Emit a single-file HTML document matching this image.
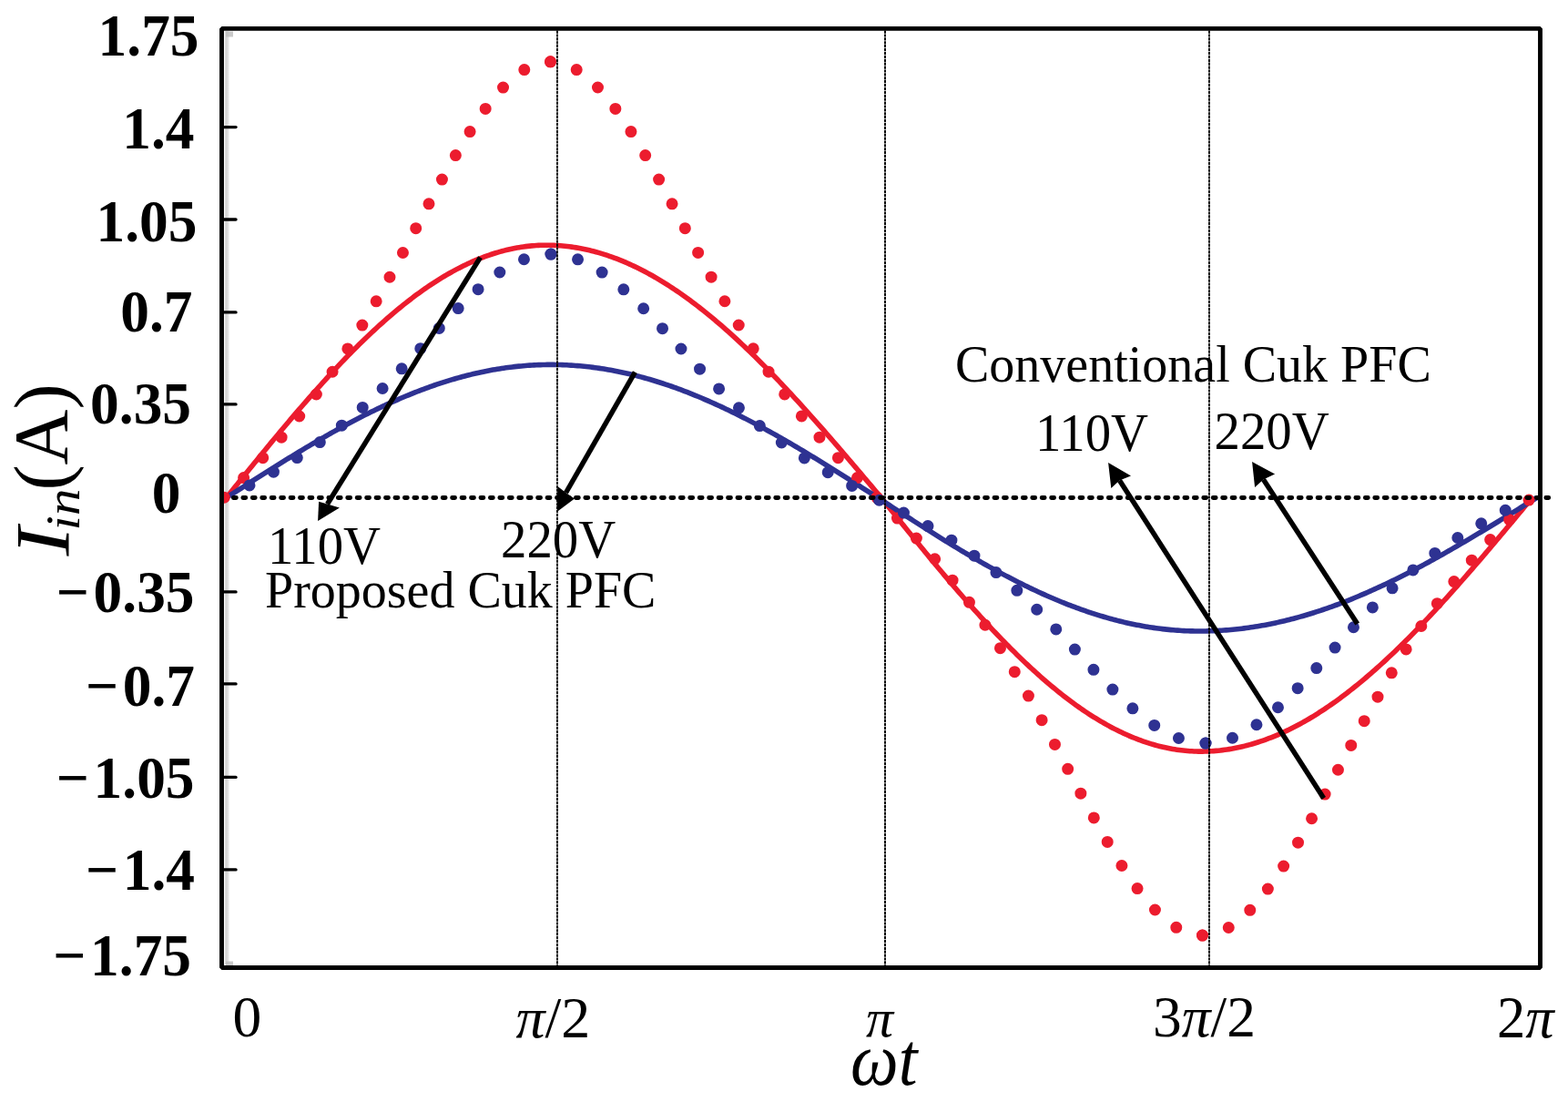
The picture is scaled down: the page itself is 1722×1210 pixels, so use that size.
<!DOCTYPE html><html><head><meta charset="utf-8"><style>html,body{margin:0;padding:0;background:#fff;}svg{display:block;}text{font-family:"Liberation Serif",serif;fill:#000;}</style></head><body>
<svg width="1722" height="1210" viewBox="0 0 1722 1210">
<rect width="1722" height="1210" fill="#fff"/>
<defs><linearGradient id="sh" x1="0" x2="1" y1="0" y2="0"><stop offset="0" stop-color="#cfcfcf"/><stop offset="0.45" stop-color="#d6d6d6"/><stop offset="1" stop-color="#f4f4f4"/></linearGradient></defs>
<rect x="247.2" y="34" width="4.8" height="1025" fill="url(#sh)"/>
<rect x="248" y="34.5" width="8" height="6" fill="#bdbdbd" opacity="0.8"/>
<rect x="248" y="1055.5" width="8" height="4.5" fill="#bdbdbd" opacity="0.8"/>
<clipPath id="pc"><rect x="246" y="34" width="1443" height="1026"/></clipPath><filter id="bl" x="-5%" y="-5%" width="110%" height="110%"><feGaussianBlur stdDeviation="0.55"/></filter><g clip-path="url(#pc)"><g filter="url(#bl)">
<path d="M248.60,546.50 L250.95,543.59 L253.29,540.68 L255.64,537.78 L257.99,534.87 L260.34,531.96 L262.68,529.06 L265.03,526.16 L267.38,523.26 L269.73,520.36 L272.07,517.47 L274.42,514.57 L276.77,511.69 L279.11,508.80 L281.46,505.92 L283.81,503.05 L286.16,500.18 L288.50,497.31 L290.85,494.45 L293.20,491.60 L295.54,488.75 L297.89,485.91 L300.24,483.07 L302.59,480.25 L304.93,477.43 L307.28,474.61 L309.63,471.81 L311.98,469.01 L314.32,466.22 L316.67,463.44 L319.02,460.67 L321.36,457.91 L323.71,455.16 L326.06,452.42 L328.41,449.69 L330.75,446.97 L333.10,444.26 L335.45,441.56 L337.80,438.87 L340.14,436.20 L342.49,433.53 L344.84,430.88 L347.18,428.25 L349.53,425.62 L351.88,423.01 L354.23,420.41 L356.57,417.83 L358.92,415.26 L361.27,412.71 L363.62,410.17 L365.96,407.64 L368.31,405.13 L370.66,402.64 L373.00,400.16 L375.35,397.69 L377.70,395.25 L380.05,392.82 L382.39,390.41 L384.74,388.01 L387.09,385.63 L389.43,383.27 L391.78,380.93 L394.13,378.61 L396.48,376.30 L398.82,374.01 L401.17,371.74 L403.52,369.50 L405.87,367.27 L408.21,365.06 L410.56,362.87 L412.91,360.70 L415.25,358.55 L417.60,356.42 L419.95,354.31 L422.30,352.23 L424.64,350.16 L426.99,348.12 L429.34,346.10 L431.69,344.10 L434.03,342.12 L436.38,340.17 L438.73,338.23 L441.07,336.33 L443.42,334.44 L445.77,332.58 L448.12,330.74 L450.46,328.92 L452.81,327.13 L455.16,325.36 L457.50,323.62 L459.85,321.90 L462.20,320.21 L464.55,318.54 L466.89,316.90 L469.24,315.28 L471.59,313.69 L473.94,312.12 L476.28,310.58 L478.63,309.06 L480.98,307.57 L483.32,306.11 L485.67,304.67 L488.02,303.26 L490.37,301.88 L492.71,300.52 L495.06,299.19 L497.41,297.89 L499.76,296.62 L502.10,295.37 L504.45,294.15 L506.80,292.96 L509.14,291.79 L511.49,290.66 L513.84,289.55 L516.19,288.47 L518.53,287.42 L520.88,286.40 L523.23,285.40 L525.57,284.44 L527.92,283.50 L530.27,282.59 L532.62,281.71 L534.96,280.86 L537.31,280.04 L539.66,279.25 L542.01,278.49 L544.35,277.76 L546.70,277.06 L549.05,276.39 L551.39,275.74 L553.74,275.13 L556.09,274.55 L558.44,273.99 L560.78,273.47 L563.13,272.98 L565.48,272.51 L567.83,272.08 L570.17,271.68 L572.52,271.30 L574.87,270.96 L577.21,270.65 L579.56,270.37 L581.91,270.12 L584.26,269.89 L586.60,269.70 L588.95,269.54 L591.30,269.41 L593.65,269.32 L595.99,269.25 L598.34,269.21 L600.71,269.20 L603.17,269.22 L605.62,269.28 L608.08,269.36 L610.54,269.48 L612.99,269.62 L615.45,269.80 L617.90,270.00 L620.36,270.24 L622.81,270.50 L625.27,270.80 L627.72,271.13 L630.18,271.49 L632.63,271.87 L635.09,272.29 L637.55,272.74 L640.00,273.22 L642.46,273.73 L644.91,274.27 L647.37,274.83 L649.82,275.43 L652.28,276.06 L654.73,276.72 L657.19,277.41 L659.64,278.12 L662.10,278.87 L664.55,279.65 L667.01,280.45 L669.47,281.29 L671.92,282.15 L674.38,283.04 L676.83,283.97 L679.29,284.92 L681.74,285.90 L684.20,286.90 L686.65,287.94 L689.11,289.01 L691.56,290.10 L694.02,291.22 L696.48,292.37 L698.93,293.55 L701.39,294.76 L703.84,295.99 L706.30,297.25 L708.75,298.54 L711.21,299.85 L713.66,301.20 L716.12,302.57 L718.57,303.96 L721.03,305.39 L723.49,306.84 L725.94,308.31 L728.40,309.82 L730.85,311.34 L733.31,312.90 L735.76,314.48 L738.22,316.09 L740.67,317.72 L743.13,319.37 L745.58,321.05 L748.04,322.76 L750.49,324.49 L752.95,326.25 L755.41,328.02 L757.86,329.83 L760.32,331.65 L762.77,333.51 L765.23,335.38 L767.68,337.28 L770.14,339.20 L772.59,341.14 L775.05,343.11 L777.50,345.10 L779.96,347.11 L782.42,349.14 L784.87,351.19 L787.33,353.27 L789.78,355.36 L792.24,357.48 L794.69,359.62 L797.15,361.78 L799.60,363.96 L802.06,366.16 L804.51,368.38 L806.97,370.62 L809.43,372.88 L811.88,375.15 L814.34,377.45 L816.79,379.77 L819.25,382.10 L821.70,384.45 L824.16,386.82 L826.61,389.21 L829.07,391.61 L831.52,394.03 L833.98,396.47 L836.43,398.92 L838.89,401.39 L841.35,403.88 L843.80,406.38 L846.26,408.90 L848.71,411.43 L851.17,413.98 L853.62,416.54 L856.08,419.12 L858.53,421.71 L860.99,424.32 L863.44,426.93 L865.90,429.56 L868.36,432.21 L870.81,434.86 L873.27,437.53 L875.72,440.21 L878.18,442.91 L880.63,445.61 L883.09,448.32 L885.54,451.05 L888.00,453.79 L890.45,456.53 L892.91,459.29 L895.36,462.06 L897.82,464.83 L900.28,467.61 L902.73,470.41 L905.19,473.21 L907.64,476.02 L910.10,478.84 L912.55,481.66 L915.01,484.49 L917.46,487.33 L919.92,490.17 L922.37,493.03 L924.83,495.88 L927.29,498.75 L929.74,501.61 L932.20,504.49 L934.65,507.36 L937.11,510.25 L939.56,513.13 L942.02,516.02 L944.47,518.91 L946.93,521.81 L949.38,524.71 L951.84,527.61 L954.30,530.51 L956.75,533.42 L959.21,536.32 L961.66,539.23 L964.12,542.14 L966.57,545.05 L968.97,547.96 L971.32,550.88 L973.66,553.81 L976.01,556.73 L978.35,559.65 L980.70,562.56 L983.04,565.48 L985.38,568.40 L987.73,571.31 L990.07,574.22 L992.42,577.12 L994.76,580.03 L997.11,582.92 L999.45,585.82 L1001.80,588.71 L1004.14,591.60 L1006.49,594.48 L1008.83,597.35 L1011.17,600.23 L1013.52,603.09 L1015.86,605.95 L1018.21,608.80 L1020.55,611.64 L1022.90,614.48 L1025.24,617.31 L1027.59,620.13 L1029.93,622.95 L1032.28,625.76 L1034.62,628.55 L1036.96,631.34 L1039.31,634.12 L1041.65,636.89 L1044.00,639.65 L1046.34,642.40 L1048.69,645.14 L1051.03,647.86 L1053.38,650.58 L1055.72,653.28 L1058.07,655.98 L1060.41,658.66 L1062.76,661.33 L1065.10,663.98 L1067.44,666.63 L1069.79,669.26 L1072.13,671.87 L1074.48,674.48 L1076.82,677.07 L1079.17,679.64 L1081.51,682.20 L1083.86,684.74 L1086.20,687.27 L1088.55,689.79 L1090.89,692.29 L1093.23,694.77 L1095.58,697.23 L1097.92,699.68 L1100.27,702.12 L1102.61,704.53 L1104.96,706.93 L1107.30,709.31 L1109.65,711.67 L1111.99,714.02 L1114.34,716.34 L1116.68,718.65 L1119.03,720.94 L1121.37,723.21 L1123.71,725.46 L1126.06,727.69 L1128.40,729.90 L1130.75,732.09 L1133.09,734.26 L1135.44,736.40 L1137.78,738.53 L1140.13,740.64 L1142.47,742.72 L1144.82,744.79 L1147.16,746.83 L1149.50,748.85 L1151.85,750.85 L1154.19,752.82 L1156.54,754.77 L1158.88,756.70 L1161.23,758.61 L1163.57,760.49 L1165.92,762.35 L1168.26,764.19 L1170.61,766.00 L1172.95,767.79 L1175.29,769.55 L1177.64,771.29 L1179.98,773.00 L1182.33,774.69 L1184.67,776.36 L1187.02,778.00 L1189.36,779.61 L1191.71,781.20 L1194.05,782.76 L1196.40,784.29 L1198.74,785.80 L1201.09,787.29 L1203.43,788.74 L1205.77,790.17 L1208.12,791.58 L1210.46,792.95 L1212.81,794.30 L1215.15,795.62 L1217.50,796.92 L1219.84,798.19 L1222.19,799.42 L1224.53,800.64 L1226.88,801.82 L1229.22,802.97 L1231.56,804.10 L1233.91,805.20 L1236.25,806.27 L1238.60,807.31 L1240.94,808.33 L1243.29,809.31 L1245.63,810.27 L1247.98,811.19 L1250.32,812.09 L1252.67,812.96 L1255.01,813.80 L1257.35,814.61 L1259.70,815.39 L1262.04,816.14 L1264.39,816.86 L1266.73,817.55 L1269.08,818.21 L1271.42,818.84 L1273.77,819.44 L1276.11,820.01 L1278.46,820.55 L1280.80,821.06 L1283.15,821.54 L1285.49,821.99 L1287.83,822.41 L1290.18,822.80 L1292.52,823.16 L1294.87,823.49 L1297.21,823.79 L1299.56,824.06 L1301.90,824.29 L1304.25,824.50 L1306.59,824.68 L1308.94,824.82 L1311.28,824.94 L1313.62,825.02 L1315.97,825.08 L1318.31,825.10 L1320.72,825.09 L1323.15,825.05 L1325.58,824.98 L1328.01,824.88 L1330.44,824.75 L1332.87,824.59 L1335.29,824.40 L1337.72,824.18 L1340.15,823.93 L1342.58,823.64 L1345.01,823.33 L1347.44,822.99 L1349.87,822.61 L1352.29,822.21 L1354.72,821.77 L1357.15,821.31 L1359.58,820.81 L1362.01,820.28 L1364.44,819.73 L1366.87,819.14 L1369.30,818.53 L1371.72,817.88 L1374.15,817.20 L1376.58,816.50 L1379.01,815.76 L1381.44,815.00 L1383.87,814.20 L1386.30,813.38 L1388.73,812.53 L1391.15,811.64 L1393.58,810.73 L1396.01,809.79 L1398.44,808.82 L1400.87,807.82 L1403.30,806.80 L1405.73,805.74 L1408.16,804.65 L1410.58,803.54 L1413.01,802.40 L1415.44,801.23 L1417.87,800.03 L1420.30,798.81 L1422.73,797.56 L1425.16,796.27 L1427.58,794.97 L1430.01,793.63 L1432.44,792.27 L1434.87,790.88 L1437.30,789.46 L1439.73,788.02 L1442.16,786.55 L1444.59,785.05 L1447.01,783.53 L1449.44,781.98 L1451.87,780.41 L1454.30,778.80 L1456.73,777.18 L1459.16,775.53 L1461.59,773.85 L1464.02,772.15 L1466.44,770.42 L1468.87,768.67 L1471.30,766.90 L1473.73,765.10 L1476.16,763.27 L1478.59,761.43 L1481.02,759.55 L1483.45,757.66 L1485.87,755.74 L1488.30,753.80 L1490.73,751.84 L1493.16,749.85 L1495.59,747.84 L1498.02,745.81 L1500.45,743.76 L1502.88,741.68 L1505.30,739.59 L1507.73,737.47 L1510.16,735.33 L1512.59,733.17 L1515.02,730.99 L1517.45,728.79 L1519.88,726.57 L1522.30,724.33 L1524.73,722.07 L1527.16,719.80 L1529.59,717.50 L1532.02,715.18 L1534.45,712.85 L1536.88,710.49 L1539.31,708.12 L1541.73,705.73 L1544.16,703.33 L1546.59,700.90 L1549.02,698.46 L1551.45,696.00 L1553.88,693.53 L1556.31,691.04 L1558.74,688.53 L1561.16,686.01 L1563.59,683.47 L1566.02,680.92 L1568.45,678.35 L1570.88,675.77 L1573.31,673.18 L1575.74,670.57 L1578.17,667.94 L1580.59,665.31 L1583.02,662.66 L1585.45,659.99 L1587.88,657.32 L1590.31,654.63 L1592.74,651.93 L1595.17,649.22 L1597.59,646.50 L1600.02,643.77 L1602.45,641.02 L1604.88,638.27 L1607.31,635.51 L1609.74,632.73 L1612.17,629.95 L1614.60,627.15 L1617.02,624.35 L1619.45,621.54 L1621.88,618.72 L1624.31,615.90 L1626.74,613.06 L1629.17,610.22 L1631.60,607.37 L1634.03,604.52 L1636.45,601.66 L1638.88,598.79 L1641.31,595.92 L1643.74,593.04 L1646.17,590.15 L1648.60,587.27 L1651.03,584.37 L1653.46,581.48 L1655.88,578.57 L1658.31,575.67 L1660.74,572.76 L1663.17,569.85 L1665.60,566.94 L1668.03,564.02 L1670.46,561.11 L1672.89,558.19 L1675.31,555.27 L1677.74,552.34 L1680.17,549.42 L1682.60,546.50" fill="none" stroke="#EC1C2E" stroke-width="5.6" stroke-linejoin="round"/>
<path d="M248.60,546.50 L250.98,544.97 L253.36,543.44 L255.74,541.90 L258.12,540.37 L260.50,538.84 L262.88,537.31 L265.26,535.78 L267.64,534.25 L270.02,532.73 L272.40,531.20 L274.78,529.68 L277.16,528.16 L279.54,526.64 L281.92,525.12 L284.30,523.61 L286.68,522.09 L289.06,520.59 L291.44,519.08 L293.82,517.57 L296.20,516.07 L298.58,514.58 L300.96,513.08 L303.34,511.59 L305.72,510.11 L308.10,508.62 L310.48,507.15 L312.86,505.67 L315.24,504.20 L317.62,502.74 L320.00,501.28 L322.38,499.83 L324.76,498.38 L327.14,496.93 L329.52,495.49 L331.90,494.06 L334.28,492.63 L336.66,491.21 L339.04,489.79 L341.42,488.39 L343.80,486.98 L346.18,485.59 L348.56,484.20 L350.94,482.81 L353.32,481.44 L355.70,480.07 L358.08,478.71 L360.46,477.35 L362.84,476.01 L365.22,474.67 L367.60,473.34 L369.98,472.02 L372.36,470.70 L374.74,469.40 L377.12,468.10 L379.50,466.81 L381.88,465.53 L384.26,464.26 L386.64,463.00 L389.02,461.74 L391.40,460.50 L393.78,459.27 L396.16,458.04 L398.54,456.83 L400.92,455.62 L403.30,454.43 L405.68,453.24 L408.06,452.07 L410.44,450.90 L412.82,449.75 L415.20,448.61 L417.58,447.48 L419.96,446.35 L422.34,445.24 L424.72,444.14 L427.10,443.06 L429.48,441.98 L431.86,440.91 L434.24,439.86 L436.62,438.82 L439.00,437.79 L441.38,436.77 L443.76,435.77 L446.14,434.77 L448.52,433.79 L450.90,432.82 L453.28,431.87 L455.66,430.92 L458.04,429.99 L460.42,429.07 L462.80,428.17 L465.18,427.28 L467.56,426.40 L469.94,425.53 L472.32,424.68 L474.70,423.84 L477.08,423.01 L479.46,422.20 L481.84,421.40 L484.22,420.62 L486.60,419.85 L488.98,419.09 L491.36,418.35 L493.74,417.62 L496.12,416.90 L498.50,416.20 L500.88,415.52 L503.26,414.84 L505.64,414.19 L508.02,413.54 L510.40,412.92 L512.78,412.30 L515.16,411.71 L517.54,411.12 L519.92,410.55 L522.30,410.00 L524.68,409.46 L527.06,408.94 L529.44,408.43 L531.82,407.93 L534.20,407.46 L536.58,406.99 L538.96,406.55 L541.34,406.11 L543.72,405.70 L546.10,405.30 L548.48,404.91 L550.86,404.54 L553.24,404.19 L555.62,403.85 L558.00,403.52 L560.38,403.22 L562.76,402.93 L565.14,402.65 L567.52,402.39 L569.90,402.15 L572.28,401.92 L574.66,401.70 L577.04,401.51 L579.42,401.33 L581.80,401.16 L584.18,401.01 L586.56,400.88 L588.94,400.77 L591.32,400.67 L593.70,400.58 L596.08,400.51 L598.46,400.46 L600.84,400.42 L603.22,400.40 L605.60,400.40 L608.00,400.41 L610.40,400.44 L612.79,400.48 L615.19,400.55 L617.59,400.62 L619.99,400.71 L622.39,400.82 L624.78,400.95 L627.18,401.09 L629.58,401.24 L631.98,401.42 L634.38,401.60 L636.77,401.81 L639.17,402.03 L641.57,402.27 L643.97,402.52 L646.37,402.79 L648.76,403.07 L651.16,403.37 L653.56,403.68 L655.96,404.01 L658.36,404.36 L660.75,404.72 L663.15,405.10 L665.55,405.49 L667.95,405.90 L670.35,406.33 L672.74,406.77 L675.14,407.22 L677.54,407.69 L679.94,408.18 L682.34,408.68 L684.73,409.20 L687.13,409.73 L689.53,410.27 L691.93,410.84 L694.33,411.41 L696.72,412.00 L699.12,412.61 L701.52,413.23 L703.92,413.86 L706.32,414.51 L708.71,415.18 L711.11,415.86 L713.51,416.55 L715.91,417.26 L718.31,417.98 L720.70,418.72 L723.10,419.47 L725.50,420.23 L727.90,421.01 L730.30,421.80 L732.69,422.60 L735.09,423.42 L737.49,424.26 L739.89,425.10 L742.29,425.96 L744.68,426.83 L747.08,427.72 L749.48,428.62 L751.88,429.53 L754.28,430.46 L756.67,431.39 L759.07,432.34 L761.47,433.31 L763.87,434.28 L766.27,435.27 L768.66,436.27 L771.06,437.28 L773.46,438.30 L775.86,439.34 L778.26,440.39 L780.65,441.45 L783.05,442.52 L785.45,443.60 L787.85,444.69 L790.25,445.80 L792.64,446.91 L795.04,448.04 L797.44,449.18 L799.84,450.33 L802.24,451.48 L804.63,452.65 L807.03,453.83 L809.43,455.02 L811.83,456.22 L814.23,457.43 L816.62,458.65 L819.02,459.88 L821.42,461.12 L823.82,462.37 L826.22,463.63 L828.61,464.89 L831.01,466.17 L833.41,467.45 L835.81,468.75 L838.21,470.05 L840.60,471.36 L843.00,472.68 L845.40,474.00 L847.80,475.34 L850.20,476.68 L852.59,478.03 L854.99,479.39 L857.39,480.75 L859.79,482.13 L862.19,483.50 L864.58,484.89 L866.98,486.28 L869.38,487.68 L871.78,489.09 L874.18,490.50 L876.57,491.92 L878.97,493.34 L881.37,494.77 L883.77,496.21 L886.17,497.65 L888.56,499.10 L890.96,500.55 L893.36,502.01 L895.76,503.47 L898.16,504.94 L900.55,506.41 L902.95,507.89 L905.35,509.37 L907.75,510.85 L910.15,512.34 L912.54,513.83 L914.94,515.33 L917.34,516.82 L919.74,518.33 L922.14,519.83 L924.53,521.34 L926.93,522.85 L929.33,524.36 L931.73,525.88 L934.13,527.40 L936.52,528.92 L938.92,530.44 L941.32,531.97 L943.72,533.49 L946.12,535.02 L948.51,536.55 L950.91,538.08 L953.31,539.61 L955.71,541.14 L958.11,542.67 L960.50,544.20 L962.90,545.73 L965.28,547.27 L967.64,548.80 L970.00,550.34 L972.36,551.88 L974.72,553.41 L977.08,554.95 L979.44,556.48 L981.79,558.01 L984.15,559.54 L986.51,561.07 L988.87,562.60 L991.23,564.13 L993.59,565.65 L995.95,567.18 L998.31,568.70 L1000.67,570.21 L1003.03,571.73 L1005.39,573.24 L1007.75,574.75 L1010.11,576.26 L1012.46,577.76 L1014.82,579.26 L1017.18,580.76 L1019.54,582.25 L1021.90,583.74 L1024.26,585.22 L1026.62,586.70 L1028.98,588.18 L1031.34,589.65 L1033.70,591.11 L1036.06,592.57 L1038.42,594.03 L1040.78,595.48 L1043.14,596.93 L1045.49,598.37 L1047.85,599.80 L1050.21,601.23 L1052.57,602.65 L1054.93,604.07 L1057.29,605.48 L1059.65,606.88 L1062.01,608.28 L1064.37,609.67 L1066.73,611.05 L1069.09,612.43 L1071.45,613.80 L1073.81,615.16 L1076.17,616.51 L1078.52,617.86 L1080.88,619.19 L1083.24,620.52 L1085.60,621.85 L1087.96,623.16 L1090.32,624.47 L1092.68,625.76 L1095.04,627.05 L1097.40,628.33 L1099.76,629.60 L1102.12,630.86 L1104.48,632.11 L1106.84,633.35 L1109.19,634.59 L1111.55,635.81 L1113.91,637.02 L1116.27,638.23 L1118.63,639.42 L1120.99,640.60 L1123.35,641.78 L1125.71,642.94 L1128.07,644.09 L1130.43,645.23 L1132.79,646.36 L1135.15,647.48 L1137.51,648.59 L1139.87,649.68 L1142.22,650.77 L1144.58,651.84 L1146.94,652.90 L1149.30,653.95 L1151.66,654.99 L1154.02,656.02 L1156.38,657.03 L1158.74,658.04 L1161.10,659.03 L1163.46,660.00 L1165.82,660.97 L1168.18,661.92 L1170.54,662.86 L1172.89,663.79 L1175.25,664.70 L1177.61,665.61 L1179.97,666.49 L1182.33,667.37 L1184.69,668.23 L1187.05,669.08 L1189.41,669.91 L1191.77,670.73 L1194.13,671.54 L1196.49,672.34 L1198.85,673.12 L1201.21,673.88 L1203.57,674.63 L1205.92,675.37 L1208.28,676.10 L1210.64,676.80 L1213.00,677.50 L1215.36,678.18 L1217.72,678.85 L1220.08,679.50 L1222.44,680.14 L1224.80,680.76 L1227.16,681.37 L1229.52,681.96 L1231.88,682.54 L1234.24,683.10 L1236.60,683.65 L1238.95,684.18 L1241.31,684.70 L1243.67,685.20 L1246.03,685.69 L1248.39,686.16 L1250.75,686.61 L1253.11,687.06 L1255.47,687.48 L1257.83,687.89 L1260.19,688.29 L1262.55,688.66 L1264.91,689.03 L1267.27,689.38 L1269.62,689.71 L1271.98,690.02 L1274.34,690.32 L1276.70,690.61 L1279.06,690.88 L1281.42,691.13 L1283.78,691.37 L1286.14,691.59 L1288.50,691.79 L1290.86,691.98 L1293.22,692.15 L1295.58,692.31 L1297.94,692.45 L1300.30,692.58 L1302.65,692.69 L1305.01,692.78 L1307.37,692.85 L1309.73,692.91 L1312.09,692.96 L1314.45,692.99 L1316.81,693.00 L1319.25,693.00 L1321.73,692.98 L1324.20,692.94 L1326.67,692.89 L1329.14,692.82 L1331.61,692.73 L1334.09,692.63 L1336.56,692.52 L1339.03,692.38 L1341.50,692.23 L1343.98,692.07 L1346.45,691.89 L1348.92,691.69 L1351.39,691.48 L1353.86,691.25 L1356.34,691.01 L1358.81,690.74 L1361.28,690.47 L1363.75,690.18 L1366.22,689.87 L1368.70,689.54 L1371.17,689.20 L1373.64,688.85 L1376.11,688.48 L1378.58,688.09 L1381.06,687.69 L1383.53,687.27 L1386.00,686.84 L1388.47,686.39 L1390.95,685.92 L1393.42,685.44 L1395.89,684.95 L1398.36,684.44 L1400.83,683.92 L1403.31,683.37 L1405.78,682.82 L1408.25,682.25 L1410.72,681.66 L1413.19,681.06 L1415.67,680.45 L1418.14,679.82 L1420.61,679.17 L1423.08,678.52 L1425.56,677.84 L1428.03,677.15 L1430.50,676.45 L1432.97,675.74 L1435.44,675.00 L1437.92,674.26 L1440.39,673.50 L1442.86,672.73 L1445.33,671.94 L1447.80,671.14 L1450.28,670.33 L1452.75,669.50 L1455.22,668.66 L1457.69,667.80 L1460.16,666.93 L1462.64,666.05 L1465.11,665.16 L1467.58,664.25 L1470.05,663.33 L1472.53,662.39 L1475.00,661.45 L1477.47,660.49 L1479.94,659.52 L1482.41,658.53 L1484.89,657.54 L1487.36,656.53 L1489.83,655.51 L1492.30,654.48 L1494.77,653.43 L1497.25,652.37 L1499.72,651.31 L1502.19,650.23 L1504.66,649.14 L1507.14,648.03 L1509.61,646.92 L1512.08,645.80 L1514.55,644.66 L1517.02,643.51 L1519.50,642.36 L1521.97,641.19 L1524.44,640.01 L1526.91,638.82 L1529.38,637.63 L1531.86,636.42 L1534.33,635.20 L1536.80,633.97 L1539.27,632.73 L1541.74,631.49 L1544.22,630.23 L1546.69,628.97 L1549.16,627.69 L1551.63,626.41 L1554.11,625.12 L1556.58,623.81 L1559.05,622.50 L1561.52,621.19 L1563.99,619.86 L1566.47,618.53 L1568.94,617.18 L1571.41,615.83 L1573.88,614.48 L1576.35,613.11 L1578.83,611.74 L1581.30,610.36 L1583.77,608.97 L1586.24,607.58 L1588.72,606.18 L1591.19,604.77 L1593.66,603.36 L1596.13,601.94 L1598.60,600.52 L1601.08,599.08 L1603.55,597.65 L1606.02,596.20 L1608.49,594.76 L1610.96,593.30 L1613.44,591.84 L1615.91,590.38 L1618.38,588.91 L1620.85,587.44 L1623.32,585.96 L1625.80,584.48 L1628.27,582.99 L1630.74,581.50 L1633.21,580.01 L1635.69,578.51 L1638.16,577.01 L1640.63,575.50 L1643.10,574.00 L1645.57,572.49 L1648.05,570.97 L1650.52,569.46 L1652.99,567.94 L1655.46,566.42 L1657.93,564.89 L1660.41,563.37 L1662.88,561.84 L1665.35,560.31 L1667.82,558.78 L1670.30,557.25 L1672.77,555.71 L1675.24,554.18 L1677.71,552.65 L1680.18,551.11 L1682.66,549.57 L1685.13,548.04 L1687.60,546.50" fill="none" stroke="#2E3192" stroke-width="5.6" stroke-linejoin="round"/>
<path d="M604.50,67.82 L603.30,67.84 L602.10,67.88 L600.90,67.96 L599.70,68.07 L598.50,68.21 L597.30,68.38 L596.10,68.58 L594.91,68.81 L593.71,69.08 L592.51,69.37 L591.31,69.69 L590.11,70.05 L588.91,70.44 L587.71,70.85 L586.51,71.30 L585.31,71.78 L584.11,72.28 L582.91,72.82 L581.71,73.39 L580.51,73.99 L579.31,74.61 L578.11,75.27 L576.92,75.96 L575.72,76.67 L574.52,77.42 L573.32,78.19 L572.12,78.99 L570.92,79.82 L569.72,80.68 L568.52,81.57 L567.32,82.49 L566.12,83.43 L564.92,84.41 L563.72,85.41 L562.52,86.43 L561.32,87.49 L560.12,88.57 L558.93,89.68 L557.73,90.81 L556.53,91.97 L555.33,93.16 L554.13,94.37 L552.93,95.61 L551.73,96.87 L550.53,98.16 L549.33,99.47 L548.13,100.81 L546.93,102.17 L545.73,103.55 L544.53,104.96 L543.33,106.40 L542.13,107.85 L540.94,109.33 L539.74,110.83 L538.54,112.36 L537.34,113.90 L536.14,115.47 L534.94,117.06 L533.74,118.66 L532.54,120.29 L531.34,121.95 L530.14,123.62 L528.94,125.31 L527.74,127.02 L526.54,128.74 L525.34,130.49 L524.14,132.26 L522.95,134.04 L521.75,135.85 L520.55,137.66 L519.35,139.50 L518.15,141.35 L516.95,143.23 L515.75,145.11 L514.55,147.01 L513.35,148.93 L512.15,150.86 L510.95,152.81 L509.75,154.77 L508.55,156.75 L507.35,158.74 L506.15,160.74 L504.96,162.76 L503.76,164.79 L502.56,166.83 L501.36,168.88 L500.16,170.94 L498.96,173.02 L497.76,175.11 L496.56,177.20 L495.36,179.31 L494.16,181.43 L492.96,183.56 L491.76,185.69 L490.56,187.84 L489.36,189.99 L488.16,192.16 L486.97,194.33 L485.77,196.50 L484.57,198.69 L483.37,200.88 L482.17,203.08 L480.97,205.28 L479.77,207.49 L478.57,209.71 L477.37,211.93 L476.17,214.16 L474.97,216.39 L473.77,218.62 L472.57,220.86 L471.37,223.10 L470.17,225.35 L468.98,227.60 L467.78,229.85 L466.58,232.10 L465.38,234.36 L464.18,236.62 L462.98,238.88 L461.78,241.14 L460.58,243.40 L459.38,245.66 L458.18,247.93 L456.98,250.19 L455.78,252.45 L454.58,254.71 L453.38,256.98 L452.18,259.24 L450.99,261.50 L449.79,263.75 L448.59,266.01 L447.39,268.26 L446.19,270.52 L444.99,272.76 L443.79,275.01 L442.59,277.25 L441.39,279.50 L440.19,281.73 L438.99,283.97 L437.79,286.20 L436.59,288.42 L435.39,290.64 L434.19,292.86 L433.00,295.07 L431.80,297.28 L430.60,299.48 L429.40,301.68 L428.20,303.87 L427.00,306.05 L425.80,308.23 L424.60,310.41 L423.40,312.58 L422.20,314.74 L421.00,316.89 L419.80,319.04 L418.60,321.18 L417.40,323.32 L416.21,325.44 L415.01,327.57 L413.81,329.68 L412.61,331.78 L411.41,333.88 L410.21,335.97 L409.01,338.05 L407.81,340.13 L406.61,342.20 L405.41,344.25 L404.21,346.30 L403.01,348.34 L401.81,350.38 L400.61,352.40 L399.41,354.42 L398.22,356.43 L397.02,358.42 L395.82,360.41 L394.62,362.39 L393.42,364.37 L392.22,366.33 L391.02,368.28 L389.82,370.23 L388.62,372.16 L387.42,374.09 L386.22,376.00 L385.02,377.91 L383.82,379.81 L382.62,381.70 L381.42,383.58 L380.23,385.44 L379.03,387.30 L377.83,389.16 L376.63,391.00 L375.43,392.83 L374.23,394.65 L373.03,396.46 L371.83,398.27 L370.63,400.06 L369.43,401.84 L368.23,403.62 L367.03,405.38 L365.83,407.14 L364.63,408.88 L363.43,410.62 L362.24,412.35 L361.04,414.06 L359.84,415.77 L358.64,417.47 L357.44,419.16 L356.24,420.84 L355.04,422.51 L353.84,424.18 L352.64,425.83 L351.44,427.47 L350.24,429.11 L349.04,430.73 L347.84,432.35 L346.64,433.96 L345.44,435.56 L344.25,437.15 L343.05,438.73 L341.85,440.30 L340.65,441.87 L339.45,443.42 L338.25,444.97 L337.05,446.51 L335.85,448.04 L334.65,449.57 L333.45,451.08 L332.25,452.59 L331.05,454.09 L329.85,455.58 L328.65,457.06 L327.45,458.54 L326.26,460.01 L325.06,461.47 L323.86,462.92 L322.66,464.37 L321.46,465.80 L320.26,467.24 L319.06,468.66 L317.86,470.08 L316.66,471.49 L315.46,472.89 L314.26,474.29 L313.06,475.68 L311.86,477.07 L310.66,478.44 L309.46,479.81 L308.27,481.18 L307.07,482.54 L305.87,483.89 L304.67,485.24 L303.47,486.58 L302.27,487.92 L301.07,489.25 L299.87,490.58 L298.67,491.90 L297.47,493.21 L296.27,494.52 L295.07,495.83 L293.87,497.13 L292.67,498.42 L291.47,499.71 L290.28,501.00 L289.08,502.28 L287.88,503.56 L286.68,504.83 L285.48,506.10 L284.28,507.37 L283.08,508.63 L281.88,509.89 L280.68,511.14 L279.48,512.39 L278.28,513.64 L277.08,514.89 L275.88,516.13 L274.68,517.37 L273.48,518.60 L272.29,519.83 L271.09,521.06 L269.89,522.29 L268.69,523.52 L267.49,524.74 L266.29,525.96 L265.09,527.18 L263.89,528.40 L262.69,529.61 L261.49,530.82 L260.29,532.04 L259.09,533.25 L257.89,534.46 L256.69,535.66 L255.49,536.87 L254.30,538.08 L253.10,539.28 L251.90,540.49 L250.70,541.69 L249.50,542.89 L248.30,544.09 L247.10,545.30 L245.90,546.50" fill="none" stroke="#EC1C2E" stroke-width="13.0" stroke-linecap="round" stroke-dasharray="0 30.40"/>
<path d="M604.50,67.82 L605.70,67.84 L606.90,67.88 L608.10,67.96 L609.30,68.07 L610.50,68.21 L611.70,68.38 L612.90,68.58 L614.10,68.81 L615.30,69.08 L616.50,69.37 L617.70,69.69 L618.90,70.05 L620.10,70.44 L621.30,70.85 L622.50,71.30 L623.70,71.78 L624.90,72.28 L626.10,72.82 L627.30,73.39 L628.50,73.99 L629.70,74.61 L630.90,75.27 L632.10,75.96 L633.30,76.67 L634.50,77.42 L635.70,78.19 L636.90,78.99 L638.10,79.82 L639.30,80.68 L640.50,81.57 L641.70,82.49 L642.90,83.43 L644.10,84.41 L645.30,85.41 L646.50,86.43 L647.70,87.49 L648.90,88.57 L650.10,89.68 L651.30,90.81 L652.50,91.97 L653.70,93.16 L654.90,94.37 L656.10,95.61 L657.30,96.87 L658.50,98.16 L659.70,99.47 L660.90,100.81 L662.10,102.17 L663.30,103.55 L664.50,104.96 L665.70,106.40 L666.90,107.85 L668.10,109.33 L669.30,110.83 L670.50,112.36 L671.70,113.90 L672.90,115.47 L674.10,117.06 L675.30,118.66 L676.50,120.29 L677.70,121.95 L678.90,123.62 L680.10,125.31 L681.30,127.02 L682.50,128.74 L683.70,130.49 L684.90,132.26 L686.10,134.04 L687.30,135.85 L688.50,137.66 L689.70,139.50 L690.90,141.35 L692.10,143.23 L693.30,145.11 L694.50,147.01 L695.70,148.93 L696.90,150.86 L698.10,152.81 L699.30,154.77 L700.50,156.75 L701.70,158.74 L702.90,160.74 L704.10,162.76 L705.30,164.79 L706.50,166.83 L707.70,168.88 L708.90,170.94 L710.10,173.02 L711.30,175.11 L712.50,177.20 L713.70,179.31 L714.90,181.43 L716.10,183.56 L717.30,185.69 L718.50,187.84 L719.70,189.99 L720.90,192.16 L722.10,194.33 L723.30,196.50 L724.50,198.69 L725.70,200.88 L726.90,203.08 L728.10,205.28 L729.30,207.49 L730.50,209.71 L731.70,211.93 L732.90,214.16 L734.10,216.39 L735.30,218.62 L736.50,220.86 L737.70,223.10 L738.90,225.35 L740.10,227.60 L741.30,229.85 L742.50,232.10 L743.70,234.36 L744.90,236.62 L746.10,238.88 L747.30,241.14 L748.50,243.40 L749.70,245.66 L750.90,247.93 L752.10,250.19 L753.30,252.45 L754.50,254.71 L755.70,256.98 L756.90,259.24 L758.10,261.50 L759.30,263.75 L760.50,266.01 L761.70,268.26 L762.90,270.52 L764.10,272.76 L765.30,275.01 L766.50,277.25 L767.70,279.50 L768.90,281.73 L770.10,283.97 L771.30,286.20 L772.50,288.42 L773.70,290.64 L774.90,292.86 L776.10,295.07 L777.30,297.28 L778.50,299.48 L779.70,301.68 L780.90,303.87 L782.10,306.05 L783.30,308.23 L784.50,310.41 L785.70,312.58 L786.90,314.74 L788.10,316.89 L789.30,319.04 L790.50,321.18 L791.70,323.32 L792.90,325.44 L794.10,327.57 L795.30,329.68 L796.50,331.78 L797.70,333.88 L798.90,335.97 L800.10,338.05 L801.30,340.13 L802.50,342.20 L803.70,344.25 L804.90,346.30 L806.10,348.34 L807.30,350.38 L808.50,352.40 L809.70,354.42 L810.90,356.43 L812.10,358.42 L813.30,360.41 L814.50,362.39 L815.70,364.37 L816.90,366.33 L818.10,368.28 L819.30,370.23 L820.50,372.16 L821.70,374.09 L822.90,376.00 L824.10,377.91 L825.30,379.81 L826.50,381.70 L827.70,383.58 L828.90,385.44 L830.10,387.30 L831.30,389.16 L832.50,391.00 L833.70,392.83 L834.90,394.65 L836.10,396.46 L837.30,398.27 L838.50,400.06 L839.70,401.84 L840.90,403.62 L842.10,405.38 L843.30,407.14 L844.50,408.88 L845.70,410.62 L846.90,412.35 L848.10,414.06 L849.30,415.77 L850.50,417.47 L851.70,419.16 L852.90,420.84 L854.10,422.51 L855.30,424.18 L856.50,425.83 L857.70,427.47 L858.90,429.11 L860.10,430.73 L861.30,432.35 L862.50,433.96 L863.70,435.56 L864.90,437.15 L866.10,438.73 L867.30,440.30 L868.50,441.87 L869.70,443.42 L870.90,444.97 L872.10,446.51 L873.30,448.04 L874.50,449.57 L875.70,451.08 L876.90,452.59 L878.10,454.09 L879.30,455.58 L880.50,457.06 L881.70,458.54 L882.90,460.01 L884.10,461.47 L885.30,462.92 L886.50,464.37 L887.70,465.80 L888.90,467.24 L890.10,468.66 L891.30,470.08 L892.50,471.49 L893.70,472.89 L894.90,474.29 L896.10,475.68 L897.30,477.07 L898.50,478.44 L899.70,479.81 L900.90,481.18 L902.10,482.54 L903.30,483.89 L904.50,485.24 L905.70,486.58 L906.90,487.92 L908.10,489.25 L909.30,490.58 L910.50,491.90 L911.70,493.21 L912.90,494.52 L914.10,495.83 L915.30,497.13 L916.50,498.42 L917.70,499.71 L918.90,501.00 L920.10,502.28 L921.30,503.56 L922.50,504.83 L923.70,506.10 L924.90,507.37 L926.10,508.63 L927.30,509.89 L928.50,511.14 L929.70,512.39 L930.90,513.64 L932.10,514.89 L933.30,516.13 L934.50,517.37 L935.70,518.60 L936.90,519.83 L938.10,521.06 L939.30,522.29 L940.50,523.52 L941.70,524.74 L942.90,525.96 L944.10,527.18 L945.30,528.40 L946.50,529.61 L947.70,530.82 L948.90,532.04 L950.10,533.25 L951.30,534.46 L952.50,535.66 L953.70,536.87 L954.90,538.08 L956.10,539.28 L957.30,540.49 L958.50,541.69 L959.70,542.89 L960.90,544.09 L962.10,545.30 L963.30,546.50" fill="none" stroke="#EC1C2E" stroke-width="13.0" stroke-linecap="round" stroke-dasharray="0 30.40"/>
<path d="M1320.50,1027.07 L1319.31,1027.05 L1318.11,1027.01 L1316.92,1026.93 L1315.72,1026.83 L1314.53,1026.69 L1313.33,1026.52 L1312.14,1026.32 L1310.94,1026.09 L1309.75,1025.83 L1308.55,1025.54 L1307.36,1025.22 L1306.16,1024.87 L1304.97,1024.49 L1303.77,1024.08 L1302.58,1023.64 L1301.39,1023.17 L1300.19,1022.67 L1299.00,1022.15 L1297.80,1021.59 L1296.61,1021.00 L1295.41,1020.38 L1294.22,1019.73 L1293.02,1019.06 L1291.83,1018.35 L1290.63,1017.62 L1289.44,1016.86 L1288.24,1016.07 L1287.05,1015.25 L1285.86,1014.40 L1284.66,1013.52 L1283.47,1012.62 L1282.27,1011.69 L1281.08,1010.73 L1279.88,1009.75 L1278.69,1008.73 L1277.49,1007.69 L1276.30,1006.63 L1275.10,1005.54 L1273.91,1004.42 L1272.71,1003.27 L1271.52,1002.10 L1270.32,1000.91 L1269.13,999.68 L1267.94,998.44 L1266.74,997.17 L1265.55,995.87 L1264.35,994.55 L1263.16,993.21 L1261.96,991.84 L1260.77,990.45 L1259.57,989.03 L1258.38,987.60 L1257.18,986.13 L1255.99,984.65 L1254.79,983.15 L1253.60,981.62 L1252.41,980.07 L1251.21,978.50 L1250.02,976.91 L1248.82,975.30 L1247.63,973.67 L1246.43,972.01 L1245.24,970.34 L1244.04,968.65 L1242.85,966.94 L1241.65,965.21 L1240.46,963.46 L1239.26,961.69 L1238.07,959.91 L1236.87,958.11 L1235.68,956.29 L1234.49,954.45 L1233.29,952.60 L1232.10,950.73 L1230.90,948.84 L1229.71,946.94 L1228.51,945.03 L1227.32,943.09 L1226.12,941.15 L1224.93,939.19 L1223.73,937.21 L1222.54,935.23 L1221.34,933.22 L1220.15,931.21 L1218.95,929.18 L1217.76,927.14 L1216.57,925.09 L1215.37,923.03 L1214.18,920.95 L1212.98,918.87 L1211.79,916.77 L1210.59,914.67 L1209.40,912.55 L1208.20,910.42 L1207.01,908.29 L1205.81,906.14 L1204.62,903.99 L1203.42,901.83 L1202.23,899.66 L1201.04,897.48 L1199.84,895.30 L1198.65,893.11 L1197.45,890.91 L1196.26,888.71 L1195.06,886.50 L1193.87,884.28 L1192.67,882.06 L1191.48,879.83 L1190.28,877.60 L1189.09,875.36 L1187.89,873.12 L1186.70,870.88 L1185.50,868.63 L1184.31,866.38 L1183.12,864.13 L1181.92,861.87 L1180.73,859.61 L1179.53,857.35 L1178.34,855.09 L1177.14,852.82 L1175.95,850.56 L1174.75,848.29 L1173.56,846.03 L1172.36,843.76 L1171.17,841.49 L1169.97,839.22 L1168.78,836.96 L1167.58,834.69 L1166.39,832.42 L1165.20,830.16 L1164.00,827.90 L1162.81,825.64 L1161.61,823.38 L1160.42,821.12 L1159.22,818.87 L1158.03,816.61 L1156.83,814.37 L1155.64,812.12 L1154.44,809.88 L1153.25,807.64 L1152.05,805.40 L1150.86,803.17 L1149.67,800.94 L1148.47,798.72 L1147.28,796.50 L1146.08,794.29 L1144.89,792.08 L1143.69,789.88 L1142.50,787.68 L1141.30,785.49 L1140.11,783.30 L1138.91,781.12 L1137.72,778.95 L1136.52,776.78 L1135.33,774.62 L1134.13,772.46 L1132.94,770.31 L1131.75,768.17 L1130.55,766.03 L1129.36,763.91 L1128.16,761.78 L1126.97,759.67 L1125.77,757.57 L1124.58,755.47 L1123.38,753.38 L1122.19,751.29 L1120.99,749.22 L1119.80,747.15 L1118.60,745.09 L1117.41,743.04 L1116.22,741.00 L1115.02,738.97 L1113.83,736.94 L1112.63,734.93 L1111.44,732.92 L1110.24,730.92 L1109.05,728.93 L1107.85,726.95 L1106.66,724.98 L1105.46,723.01 L1104.27,721.06 L1103.07,719.12 L1101.88,717.18 L1100.68,715.25 L1099.49,713.34 L1098.30,711.43 L1097.10,709.53 L1095.91,707.64 L1094.71,705.76 L1093.52,703.89 L1092.32,702.03 L1091.13,700.18 L1089.93,698.34 L1088.74,696.51 L1087.54,694.69 L1086.35,692.87 L1085.15,691.07 L1083.96,689.28 L1082.76,687.49 L1081.57,685.72 L1080.38,683.95 L1079.18,682.20 L1077.99,680.45 L1076.79,678.71 L1075.60,676.99 L1074.40,675.27 L1073.21,673.56 L1072.01,671.86 L1070.82,670.17 L1069.62,668.49 L1068.43,666.82 L1067.23,665.16 L1066.04,663.51 L1064.85,661.86 L1063.65,660.23 L1062.46,658.60 L1061.26,656.99 L1060.07,655.38 L1058.87,653.78 L1057.68,652.19 L1056.48,650.61 L1055.29,649.04 L1054.09,647.47 L1052.90,645.92 L1051.70,644.37 L1050.51,642.83 L1049.31,641.30 L1048.12,639.78 L1046.93,638.26 L1045.73,636.76 L1044.54,635.26 L1043.34,633.77 L1042.15,632.29 L1040.95,630.81 L1039.76,629.35 L1038.56,627.89 L1037.37,626.44 L1036.17,624.99 L1034.98,623.56 L1033.78,622.13 L1032.59,620.70 L1031.39,619.29 L1030.20,617.88 L1029.01,616.48 L1027.81,615.08 L1026.62,613.69 L1025.42,612.31 L1024.23,610.94 L1023.03,609.57 L1021.84,608.20 L1020.64,606.85 L1019.45,605.49 L1018.25,604.15 L1017.06,602.81 L1015.86,601.47 L1014.67,600.15 L1013.48,598.82 L1012.28,597.50 L1011.09,596.19 L1009.89,594.88 L1008.70,593.58 L1007.50,592.28 L1006.31,590.99 L1005.11,589.70 L1003.92,588.42 L1002.72,587.14 L1001.53,585.86 L1000.33,584.59 L999.14,583.32 L997.94,582.06 L996.75,580.80 L995.56,579.54 L994.36,578.29 L993.17,577.04 L991.97,575.79 L990.78,574.55 L989.58,573.30 L988.39,572.07 L987.19,570.83 L986.00,569.60 L984.80,568.37 L983.61,567.14 L982.41,565.92 L981.22,564.69 L980.03,563.47 L978.83,562.25 L977.64,561.03 L976.44,559.82 L975.25,558.60 L974.05,557.39 L972.86,556.17 L971.66,554.96 L970.47,553.75 L969.27,552.54 L968.08,551.33 L966.88,550.12 L965.69,548.92 L964.49,547.71 L963.30,546.50" fill="none" stroke="#EC1C2E" stroke-width="13.0" stroke-linecap="round" stroke-dasharray="0 30.40"/>
<path d="M1320.50,1027.07 L1321.71,1027.05 L1322.92,1027.01 L1324.12,1026.93 L1325.33,1026.83 L1326.54,1026.69 L1327.75,1026.52 L1328.95,1026.32 L1330.16,1026.09 L1331.37,1025.83 L1332.58,1025.54 L1333.78,1025.22 L1334.99,1024.87 L1336.20,1024.49 L1337.41,1024.08 L1338.62,1023.64 L1339.82,1023.17 L1341.03,1022.67 L1342.24,1022.15 L1343.45,1021.59 L1344.65,1021.00 L1345.86,1020.38 L1347.07,1019.73 L1348.28,1019.06 L1349.48,1018.35 L1350.69,1017.62 L1351.90,1016.86 L1353.11,1016.07 L1354.32,1015.25 L1355.52,1014.40 L1356.73,1013.52 L1357.94,1012.62 L1359.15,1011.69 L1360.35,1010.73 L1361.56,1009.75 L1362.77,1008.73 L1363.98,1007.69 L1365.18,1006.63 L1366.39,1005.54 L1367.60,1004.42 L1368.81,1003.27 L1370.02,1002.10 L1371.22,1000.91 L1372.43,999.68 L1373.64,998.44 L1374.85,997.17 L1376.05,995.87 L1377.26,994.55 L1378.47,993.21 L1379.68,991.84 L1380.88,990.45 L1382.09,989.03 L1383.30,987.60 L1384.51,986.13 L1385.72,984.65 L1386.92,983.15 L1388.13,981.62 L1389.34,980.07 L1390.55,978.50 L1391.75,976.91 L1392.96,975.30 L1394.17,973.67 L1395.38,972.01 L1396.58,970.34 L1397.79,968.65 L1399.00,966.94 L1400.21,965.21 L1401.42,963.46 L1402.62,961.69 L1403.83,959.91 L1405.04,958.11 L1406.25,956.29 L1407.45,954.45 L1408.66,952.60 L1409.87,950.73 L1411.08,948.84 L1412.28,946.94 L1413.49,945.03 L1414.70,943.09 L1415.91,941.15 L1417.12,939.19 L1418.32,937.21 L1419.53,935.23 L1420.74,933.22 L1421.95,931.21 L1423.15,929.18 L1424.36,927.14 L1425.57,925.09 L1426.78,923.03 L1427.98,920.95 L1429.19,918.87 L1430.40,916.77 L1431.61,914.67 L1432.82,912.55 L1434.02,910.42 L1435.23,908.29 L1436.44,906.14 L1437.65,903.99 L1438.85,901.83 L1440.06,899.66 L1441.27,897.48 L1442.48,895.30 L1443.68,893.11 L1444.89,890.91 L1446.10,888.71 L1447.31,886.50 L1448.52,884.28 L1449.72,882.06 L1450.93,879.83 L1452.14,877.60 L1453.35,875.36 L1454.55,873.12 L1455.76,870.88 L1456.97,868.63 L1458.18,866.38 L1459.38,864.13 L1460.59,861.87 L1461.80,859.61 L1463.01,857.35 L1464.22,855.09 L1465.42,852.82 L1466.63,850.56 L1467.84,848.29 L1469.05,846.03 L1470.25,843.76 L1471.46,841.49 L1472.67,839.22 L1473.88,836.96 L1475.08,834.69 L1476.29,832.42 L1477.50,830.16 L1478.71,827.90 L1479.92,825.64 L1481.12,823.38 L1482.33,821.12 L1483.54,818.87 L1484.75,816.61 L1485.95,814.37 L1487.16,812.12 L1488.37,809.88 L1489.58,807.64 L1490.78,805.40 L1491.99,803.17 L1493.20,800.94 L1494.41,798.72 L1495.62,796.50 L1496.82,794.29 L1498.03,792.08 L1499.24,789.88 L1500.45,787.68 L1501.65,785.49 L1502.86,783.30 L1504.07,781.12 L1505.28,778.95 L1506.48,776.78 L1507.69,774.62 L1508.90,772.46 L1510.11,770.31 L1511.32,768.17 L1512.52,766.03 L1513.73,763.91 L1514.94,761.78 L1516.15,759.67 L1517.35,757.57 L1518.56,755.47 L1519.77,753.38 L1520.98,751.29 L1522.18,749.22 L1523.39,747.15 L1524.60,745.09 L1525.81,743.04 L1527.02,741.00 L1528.22,738.97 L1529.43,736.94 L1530.64,734.93 L1531.85,732.92 L1533.05,730.92 L1534.26,728.93 L1535.47,726.95 L1536.68,724.98 L1537.88,723.01 L1539.09,721.06 L1540.30,719.12 L1541.51,717.18 L1542.72,715.25 L1543.92,713.34 L1545.13,711.43 L1546.34,709.53 L1547.55,707.64 L1548.75,705.76 L1549.96,703.89 L1551.17,702.03 L1552.38,700.18 L1553.58,698.34 L1554.79,696.51 L1556.00,694.69 L1557.21,692.87 L1558.42,691.07 L1559.62,689.28 L1560.83,687.49 L1562.04,685.72 L1563.25,683.95 L1564.45,682.20 L1565.66,680.45 L1566.87,678.71 L1568.08,676.99 L1569.28,675.27 L1570.49,673.56 L1571.70,671.86 L1572.91,670.17 L1574.12,668.49 L1575.32,666.82 L1576.53,665.16 L1577.74,663.51 L1578.95,661.86 L1580.15,660.23 L1581.36,658.60 L1582.57,656.99 L1583.78,655.38 L1584.98,653.78 L1586.19,652.19 L1587.40,650.61 L1588.61,649.04 L1589.82,647.47 L1591.02,645.92 L1592.23,644.37 L1593.44,642.83 L1594.65,641.30 L1595.85,639.78 L1597.06,638.26 L1598.27,636.76 L1599.48,635.26 L1600.68,633.77 L1601.89,632.29 L1603.10,630.81 L1604.31,629.35 L1605.52,627.89 L1606.72,626.44 L1607.93,624.99 L1609.14,623.56 L1610.35,622.13 L1611.55,620.70 L1612.76,619.29 L1613.97,617.88 L1615.18,616.48 L1616.38,615.08 L1617.59,613.69 L1618.80,612.31 L1620.01,610.94 L1621.22,609.57 L1622.42,608.20 L1623.63,606.85 L1624.84,605.49 L1626.05,604.15 L1627.25,602.81 L1628.46,601.47 L1629.67,600.15 L1630.88,598.82 L1632.08,597.50 L1633.29,596.19 L1634.50,594.88 L1635.71,593.58 L1636.92,592.28 L1638.12,590.99 L1639.33,589.70 L1640.54,588.42 L1641.75,587.14 L1642.95,585.86 L1644.16,584.59 L1645.37,583.32 L1646.58,582.06 L1647.78,580.80 L1648.99,579.54 L1650.20,578.29 L1651.41,577.04 L1652.62,575.79 L1653.82,574.55 L1655.03,573.30 L1656.24,572.07 L1657.45,570.83 L1658.65,569.60 L1659.86,568.37 L1661.07,567.14 L1662.28,565.92 L1663.48,564.69 L1664.69,563.47 L1665.90,562.25 L1667.11,561.03 L1668.32,559.82 L1669.52,558.60 L1670.73,557.39 L1671.94,556.17 L1673.15,554.96 L1674.35,553.75 L1675.56,552.54 L1676.77,551.33 L1677.98,550.12 L1679.18,548.92 L1680.39,547.71 L1681.60,546.50" fill="none" stroke="#EC1C2E" stroke-width="13.0" stroke-linecap="round" stroke-dasharray="0 30.40"/>
<path d="M605.00,279.10 L603.81,279.11 L602.62,279.14 L601.42,279.18 L600.23,279.25 L599.04,279.33 L597.85,279.44 L596.65,279.56 L595.46,279.70 L594.27,279.86 L593.08,280.03 L591.88,280.23 L590.69,280.44 L589.50,280.68 L588.31,280.93 L587.12,281.20 L585.92,281.48 L584.73,281.79 L583.54,282.11 L582.35,282.46 L581.15,282.82 L579.96,283.19 L578.77,283.59 L577.58,284.00 L576.38,284.43 L575.19,284.88 L574.00,285.35 L572.81,285.83 L571.62,286.33 L570.42,286.85 L569.23,287.38 L568.04,287.93 L566.85,288.50 L565.65,289.08 L564.46,289.68 L563.27,290.30 L562.08,290.93 L560.88,291.58 L559.69,292.24 L558.50,292.92 L557.31,293.62 L556.12,294.33 L554.92,295.06 L553.73,295.80 L552.54,296.56 L551.35,297.33 L550.15,298.11 L548.96,298.91 L547.77,299.73 L546.58,300.56 L545.38,301.40 L544.19,302.26 L543.00,303.12 L541.81,304.01 L540.62,304.90 L539.42,305.81 L538.23,306.73 L537.04,307.67 L535.85,308.61 L534.65,309.57 L533.46,310.54 L532.27,311.53 L531.08,312.52 L529.88,313.52 L528.69,314.54 L527.50,315.57 L526.31,316.61 L525.12,317.65 L523.92,318.71 L522.73,319.78 L521.54,320.86 L520.35,321.95 L519.15,323.05 L517.96,324.15 L516.77,325.27 L515.58,326.39 L514.38,327.53 L513.19,328.67 L512.00,329.82 L510.81,330.97 L509.62,332.14 L508.42,333.31 L507.23,334.49 L506.04,335.68 L504.85,336.87 L503.65,338.07 L502.46,339.28 L501.27,340.49 L500.08,341.71 L498.88,342.93 L497.69,344.16 L496.50,345.39 L495.31,346.63 L494.12,347.88 L492.92,349.12 L491.73,350.38 L490.54,351.64 L489.35,352.90 L488.15,354.16 L486.96,355.43 L485.77,356.70 L484.58,357.98 L483.38,359.25 L482.19,360.53 L481.00,361.82 L479.81,363.10 L478.62,364.39 L477.42,365.68 L476.23,366.97 L475.04,368.26 L473.85,369.56 L472.65,370.85 L471.46,372.15 L470.27,373.44 L469.08,374.74 L467.88,376.04 L466.69,377.34 L465.50,378.63 L464.31,379.93 L463.12,381.23 L461.92,382.52 L460.73,383.82 L459.54,385.11 L458.35,386.41 L457.15,387.70 L455.96,388.99 L454.77,390.28 L453.58,391.57 L452.38,392.86 L451.19,394.14 L450.00,395.42 L448.81,396.70 L447.62,397.98 L446.42,399.26 L445.23,400.53 L444.04,401.80 L442.85,403.06 L441.65,404.33 L440.46,405.59 L439.27,406.84 L438.08,408.10 L436.88,409.35 L435.69,410.59 L434.50,411.84 L433.31,413.08 L432.12,414.31 L430.92,415.54 L429.73,416.77 L428.54,417.99 L427.35,419.21 L426.15,420.42 L424.96,421.63 L423.77,422.83 L422.58,424.03 L421.38,425.23 L420.19,426.42 L419.00,427.60 L417.81,428.78 L416.62,429.96 L415.42,431.12 L414.23,432.29 L413.04,433.45 L411.85,434.60 L410.65,435.75 L409.46,436.89 L408.27,438.03 L407.08,439.16 L405.88,440.29 L404.69,441.41 L403.50,442.52 L402.31,443.63 L401.12,444.73 L399.92,445.83 L398.73,446.92 L397.54,448.01 L396.35,449.09 L395.15,450.16 L393.96,451.23 L392.77,452.29 L391.58,453.35 L390.38,454.40 L389.19,455.44 L388.00,456.48 L386.81,457.51 L385.62,458.54 L384.42,459.56 L383.23,460.57 L382.04,461.58 L380.85,462.58 L379.65,463.58 L378.46,464.57 L377.27,465.56 L376.08,466.54 L374.88,467.51 L373.69,468.48 L372.50,469.44 L371.31,470.39 L370.12,471.34 L368.92,472.29 L367.73,473.22 L366.54,474.16 L365.35,475.08 L364.15,476.00 L362.96,476.92 L361.77,477.83 L360.58,478.73 L359.38,479.63 L358.19,480.52 L357.00,481.41 L355.81,482.29 L354.62,483.17 L353.42,484.04 L352.23,484.91 L351.04,485.77 L349.85,486.63 L348.65,487.48 L347.46,488.32 L346.27,489.16 L345.08,490.00 L343.88,490.83 L342.69,491.65 L341.50,492.47 L340.31,493.29 L339.12,494.10 L337.92,494.91 L336.73,495.71 L335.54,496.51 L334.35,497.30 L333.15,498.09 L331.96,498.87 L330.77,499.65 L329.58,500.43 L328.38,501.20 L327.19,501.96 L326.00,502.73 L324.81,503.49 L323.62,504.24 L322.42,504.99 L321.23,505.74 L320.04,506.48 L318.85,507.22 L317.65,507.96 L316.46,508.69 L315.27,509.42 L314.08,510.14 L312.88,510.86 L311.69,511.58 L310.50,512.30 L309.31,513.01 L308.12,513.72 L306.92,514.42 L305.73,515.13 L304.54,515.82 L303.35,516.52 L302.15,517.21 L300.96,517.91 L299.77,518.59 L298.58,519.28 L297.38,519.96 L296.19,520.64 L295.00,521.32 L293.81,522.00 L292.62,522.67 L291.42,523.34 L290.23,524.01 L289.04,524.68 L287.85,525.34 L286.65,526.00 L285.46,526.66 L284.27,527.32 L283.08,527.98 L281.88,528.63 L280.69,529.29 L279.50,529.94 L278.31,530.59 L277.12,531.24 L275.92,531.88 L274.73,532.53 L273.54,533.17 L272.35,533.82 L271.15,534.46 L269.96,535.10 L268.77,535.74 L267.58,536.38 L266.38,537.01 L265.19,537.65 L264.00,538.29 L262.81,538.92 L261.62,539.55 L260.42,540.19 L259.23,540.82 L258.04,541.45 L256.85,542.09 L255.65,542.72 L254.46,543.35 L253.27,543.98 L252.08,544.61 L250.88,545.24 L249.69,545.87 L248.50,546.50" fill="none" stroke="#2E3192" stroke-width="13.0" stroke-linecap="round" stroke-dasharray="0 30.25"/>
<path d="M605.00,279.10 L606.19,279.11 L607.38,279.14 L608.56,279.18 L609.75,279.25 L610.94,279.33 L612.13,279.44 L613.32,279.56 L614.50,279.70 L615.69,279.86 L616.88,280.03 L618.07,280.23 L619.26,280.44 L620.44,280.68 L621.63,280.93 L622.82,281.20 L624.01,281.48 L625.20,281.79 L626.38,282.11 L627.57,282.46 L628.76,282.82 L629.95,283.19 L631.14,283.59 L632.32,284.00 L633.51,284.43 L634.70,284.88 L635.89,285.35 L637.07,285.83 L638.26,286.33 L639.45,286.85 L640.64,287.38 L641.83,287.93 L643.01,288.50 L644.20,289.08 L645.39,289.68 L646.58,290.30 L647.77,290.93 L648.95,291.58 L650.14,292.24 L651.33,292.92 L652.52,293.62 L653.71,294.33 L654.89,295.06 L656.08,295.80 L657.27,296.56 L658.46,297.33 L659.65,298.11 L660.83,298.91 L662.02,299.73 L663.21,300.56 L664.40,301.40 L665.59,302.26 L666.77,303.12 L667.96,304.01 L669.15,304.90 L670.34,305.81 L671.53,306.73 L672.71,307.67 L673.90,308.61 L675.09,309.57 L676.28,310.54 L677.47,311.53 L678.65,312.52 L679.84,313.52 L681.03,314.54 L682.22,315.57 L683.41,316.61 L684.59,317.65 L685.78,318.71 L686.97,319.78 L688.16,320.86 L689.35,321.95 L690.53,323.05 L691.72,324.15 L692.91,325.27 L694.10,326.39 L695.28,327.53 L696.47,328.67 L697.66,329.82 L698.85,330.97 L700.04,332.14 L701.22,333.31 L702.41,334.49 L703.60,335.68 L704.79,336.87 L705.98,338.07 L707.16,339.28 L708.35,340.49 L709.54,341.71 L710.73,342.93 L711.92,344.16 L713.10,345.39 L714.29,346.63 L715.48,347.88 L716.67,349.12 L717.86,350.38 L719.04,351.64 L720.23,352.90 L721.42,354.16 L722.61,355.43 L723.80,356.70 L724.98,357.98 L726.17,359.25 L727.36,360.53 L728.55,361.82 L729.74,363.10 L730.92,364.39 L732.11,365.68 L733.30,366.97 L734.49,368.26 L735.68,369.56 L736.86,370.85 L738.05,372.15 L739.24,373.44 L740.43,374.74 L741.62,376.04 L742.80,377.34 L743.99,378.63 L745.18,379.93 L746.37,381.23 L747.56,382.52 L748.74,383.82 L749.93,385.11 L751.12,386.41 L752.31,387.70 L753.49,388.99 L754.68,390.28 L755.87,391.57 L757.06,392.86 L758.25,394.14 L759.43,395.42 L760.62,396.70 L761.81,397.98 L763.00,399.26 L764.19,400.53 L765.37,401.80 L766.56,403.06 L767.75,404.33 L768.94,405.59 L770.13,406.84 L771.31,408.10 L772.50,409.35 L773.69,410.59 L774.88,411.84 L776.07,413.08 L777.25,414.31 L778.44,415.54 L779.63,416.77 L780.82,417.99 L782.01,419.21 L783.19,420.42 L784.38,421.63 L785.57,422.83 L786.76,424.03 L787.95,425.23 L789.13,426.42 L790.32,427.60 L791.51,428.78 L792.70,429.96 L793.89,431.12 L795.07,432.29 L796.26,433.45 L797.45,434.60 L798.64,435.75 L799.83,436.89 L801.01,438.03 L802.20,439.16 L803.39,440.29 L804.58,441.41 L805.77,442.52 L806.95,443.63 L808.14,444.73 L809.33,445.83 L810.52,446.92 L811.71,448.01 L812.89,449.09 L814.08,450.16 L815.27,451.23 L816.46,452.29 L817.64,453.35 L818.83,454.40 L820.02,455.44 L821.21,456.48 L822.40,457.51 L823.58,458.54 L824.77,459.56 L825.96,460.57 L827.15,461.58 L828.34,462.58 L829.52,463.58 L830.71,464.57 L831.90,465.56 L833.09,466.54 L834.28,467.51 L835.46,468.48 L836.65,469.44 L837.84,470.39 L839.03,471.34 L840.22,472.29 L841.40,473.22 L842.59,474.16 L843.78,475.08 L844.97,476.00 L846.16,476.92 L847.34,477.83 L848.53,478.73 L849.72,479.63 L850.91,480.52 L852.10,481.41 L853.28,482.29 L854.47,483.17 L855.66,484.04 L856.85,484.91 L858.04,485.77 L859.22,486.63 L860.41,487.48 L861.60,488.32 L862.79,489.16 L863.98,490.00 L865.16,490.83 L866.35,491.65 L867.54,492.47 L868.73,493.29 L869.92,494.10 L871.10,494.91 L872.29,495.71 L873.48,496.51 L874.67,497.30 L875.85,498.09 L877.04,498.87 L878.23,499.65 L879.42,500.43 L880.61,501.20 L881.79,501.96 L882.98,502.73 L884.17,503.49 L885.36,504.24 L886.55,504.99 L887.73,505.74 L888.92,506.48 L890.11,507.22 L891.30,507.96 L892.49,508.69 L893.67,509.42 L894.86,510.14 L896.05,510.86 L897.24,511.58 L898.43,512.30 L899.61,513.01 L900.80,513.72 L901.99,514.42 L903.18,515.13 L904.37,515.82 L905.55,516.52 L906.74,517.21 L907.93,517.91 L909.12,518.59 L910.31,519.28 L911.49,519.96 L912.68,520.64 L913.87,521.32 L915.06,522.00 L916.25,522.67 L917.43,523.34 L918.62,524.01 L919.81,524.68 L921.00,525.34 L922.19,526.00 L923.37,526.66 L924.56,527.32 L925.75,527.98 L926.94,528.63 L928.13,529.29 L929.31,529.94 L930.50,530.59 L931.69,531.24 L932.88,531.88 L934.06,532.53 L935.25,533.17 L936.44,533.82 L937.63,534.46 L938.82,535.10 L940.00,535.74 L941.19,536.38 L942.38,537.01 L943.57,537.65 L944.76,538.29 L945.94,538.92 L947.13,539.55 L948.32,540.19 L949.51,540.82 L950.70,541.45 L951.88,542.09 L953.07,542.72 L954.26,543.35 L955.45,543.98 L956.64,544.61 L957.82,545.24 L959.01,545.87 L960.20,546.50" fill="none" stroke="#2E3192" stroke-width="13.0" stroke-linecap="round" stroke-dasharray="0 30.25"/>
<path d="M1324.00,816.11 L1322.78,816.10 L1321.57,816.07 L1320.35,816.02 L1319.13,815.96 L1317.92,815.87 L1316.70,815.76 L1315.48,815.64 L1314.27,815.50 L1313.05,815.33 L1311.83,815.15 L1310.62,814.95 L1309.40,814.73 L1308.18,814.49 L1306.97,814.24 L1305.75,813.96 L1304.53,813.67 L1303.32,813.35 L1302.10,813.02 L1300.88,812.67 L1299.67,812.30 L1298.45,811.91 L1297.23,811.51 L1296.02,811.09 L1294.80,810.64 L1293.58,810.18 L1292.37,809.71 L1291.15,809.21 L1289.93,808.70 L1288.72,808.17 L1287.50,807.62 L1286.28,807.06 L1285.06,806.48 L1283.85,805.88 L1282.63,805.27 L1281.41,804.63 L1280.20,803.99 L1278.98,803.32 L1277.76,802.64 L1276.55,801.94 L1275.33,801.23 L1274.11,800.50 L1272.90,799.76 L1271.68,799.00 L1270.46,798.22 L1269.25,797.43 L1268.03,796.63 L1266.81,795.81 L1265.60,794.98 L1264.38,794.13 L1263.16,793.26 L1261.95,792.39 L1260.73,791.50 L1259.51,790.59 L1258.30,789.68 L1257.08,788.75 L1255.86,787.80 L1254.65,786.85 L1253.43,785.88 L1252.21,784.90 L1251.00,783.91 L1249.78,782.90 L1248.56,781.88 L1247.35,780.86 L1246.13,779.82 L1244.91,778.77 L1243.70,777.70 L1242.48,776.63 L1241.26,775.55 L1240.05,774.46 L1238.83,773.35 L1237.61,772.24 L1236.40,771.12 L1235.18,769.99 L1233.96,768.85 L1232.75,767.70 L1231.53,766.54 L1230.31,765.38 L1229.10,764.20 L1227.88,763.02 L1226.66,761.83 L1225.45,760.63 L1224.23,759.43 L1223.01,758.22 L1221.80,757.00 L1220.58,755.77 L1219.36,754.54 L1218.15,753.30 L1216.93,752.06 L1215.71,750.81 L1214.49,749.56 L1213.28,748.30 L1212.06,747.03 L1210.84,745.77 L1209.63,744.49 L1208.41,743.21 L1207.19,741.93 L1205.98,740.65 L1204.76,739.36 L1203.54,738.06 L1202.33,736.77 L1201.11,735.47 L1199.89,734.17 L1198.68,732.86 L1197.46,731.55 L1196.24,730.24 L1195.03,728.93 L1193.81,727.62 L1192.59,726.31 L1191.38,724.99 L1190.16,723.67 L1188.94,722.36 L1187.73,721.04 L1186.51,719.72 L1185.29,718.40 L1184.08,717.08 L1182.86,715.76 L1181.64,714.44 L1180.43,713.12 L1179.21,711.80 L1177.99,710.49 L1176.78,709.17 L1175.56,707.85 L1174.34,706.54 L1173.13,705.23 L1171.91,703.91 L1170.69,702.60 L1169.48,701.30 L1168.26,699.99 L1167.04,698.69 L1165.83,697.39 L1164.61,696.09 L1163.39,694.79 L1162.18,693.50 L1160.96,692.21 L1159.74,690.92 L1158.53,689.64 L1157.31,688.36 L1156.09,687.08 L1154.88,685.81 L1153.66,684.54 L1152.44,683.27 L1151.23,682.01 L1150.01,680.75 L1148.79,679.50 L1147.58,678.25 L1146.36,677.00 L1145.14,675.76 L1143.93,674.53 L1142.71,673.30 L1141.49,672.07 L1140.27,670.85 L1139.06,669.63 L1137.84,668.42 L1136.62,667.21 L1135.41,666.01 L1134.19,664.82 L1132.97,663.63 L1131.76,662.44 L1130.54,661.26 L1129.32,660.09 L1128.11,658.92 L1126.89,657.76 L1125.67,656.60 L1124.46,655.45 L1123.24,654.30 L1122.02,653.16 L1120.81,652.03 L1119.59,650.90 L1118.37,649.78 L1117.16,648.66 L1115.94,647.55 L1114.72,646.45 L1113.51,645.35 L1112.29,644.26 L1111.07,643.18 L1109.86,642.10 L1108.64,641.02 L1107.42,639.96 L1106.21,638.90 L1104.99,637.84 L1103.77,636.80 L1102.56,635.75 L1101.34,634.72 L1100.12,633.69 L1098.91,632.67 L1097.69,631.65 L1096.47,630.64 L1095.26,629.63 L1094.04,628.64 L1092.82,627.64 L1091.61,626.66 L1090.39,625.68 L1089.17,624.70 L1087.96,623.74 L1086.74,622.78 L1085.52,621.82 L1084.31,620.87 L1083.09,619.93 L1081.87,618.99 L1080.66,618.06 L1079.44,617.13 L1078.22,616.22 L1077.01,615.30 L1075.79,614.39 L1074.57,613.49 L1073.36,612.60 L1072.14,611.71 L1070.92,610.82 L1069.71,609.94 L1068.49,609.07 L1067.27,608.20 L1066.05,607.34 L1064.84,606.48 L1063.62,605.63 L1062.40,604.78 L1061.19,603.94 L1059.97,603.11 L1058.75,602.28 L1057.54,601.45 L1056.32,600.63 L1055.10,599.82 L1053.89,599.00 L1052.67,598.20 L1051.45,597.40 L1050.24,596.60 L1049.02,595.81 L1047.80,595.03 L1046.59,594.24 L1045.37,593.47 L1044.15,592.69 L1042.94,591.92 L1041.72,591.16 L1040.50,590.40 L1039.29,589.65 L1038.07,588.89 L1036.85,588.15 L1035.64,587.40 L1034.42,586.66 L1033.20,585.93 L1031.99,585.20 L1030.77,584.47 L1029.55,583.75 L1028.34,583.03 L1027.12,582.31 L1025.90,581.60 L1024.69,580.89 L1023.47,580.18 L1022.25,579.48 L1021.04,578.78 L1019.82,578.08 L1018.60,577.39 L1017.39,576.70 L1016.17,576.01 L1014.95,575.33 L1013.74,574.64 L1012.52,573.96 L1011.30,573.29 L1010.09,572.62 L1008.87,571.94 L1007.65,571.28 L1006.44,570.61 L1005.22,569.95 L1004.00,569.29 L1002.79,568.63 L1001.57,567.97 L1000.35,567.32 L999.14,566.66 L997.92,566.01 L996.70,565.36 L995.48,564.72 L994.27,564.07 L993.05,563.43 L991.83,562.79 L990.62,562.15 L989.40,561.51 L988.18,560.87 L986.97,560.24 L985.75,559.61 L984.53,558.97 L983.32,558.34 L982.10,557.71 L980.88,557.08 L979.67,556.45 L978.45,555.83 L977.23,555.20 L976.02,554.58 L974.80,553.95 L973.58,553.33 L972.37,552.71 L971.15,552.08 L969.93,551.46 L968.72,550.84 L967.50,550.22 L966.28,549.60 L965.07,548.98 L963.85,548.36 L962.63,547.74 L961.42,547.12 L960.20,546.50" fill="none" stroke="#2E3192" stroke-width="13.0" stroke-linecap="round" stroke-dasharray="0 30.25"/>
<path d="M1324.00,816.11 L1325.19,816.10 L1326.38,816.07 L1327.57,816.02 L1328.75,815.96 L1329.94,815.87 L1331.13,815.76 L1332.32,815.64 L1333.51,815.50 L1334.70,815.33 L1335.89,815.15 L1337.07,814.95 L1338.26,814.73 L1339.45,814.49 L1340.64,814.24 L1341.83,813.96 L1343.02,813.67 L1344.21,813.35 L1345.40,813.02 L1346.58,812.67 L1347.77,812.30 L1348.96,811.91 L1350.15,811.51 L1351.34,811.09 L1352.53,810.64 L1353.72,810.18 L1354.90,809.71 L1356.09,809.21 L1357.28,808.70 L1358.47,808.17 L1359.66,807.62 L1360.85,807.06 L1362.04,806.48 L1363.22,805.88 L1364.41,805.27 L1365.60,804.63 L1366.79,803.99 L1367.98,803.32 L1369.17,802.64 L1370.36,801.94 L1371.55,801.23 L1372.73,800.50 L1373.92,799.76 L1375.11,799.00 L1376.30,798.22 L1377.49,797.43 L1378.68,796.63 L1379.87,795.81 L1381.05,794.98 L1382.24,794.13 L1383.43,793.26 L1384.62,792.39 L1385.81,791.50 L1387.00,790.59 L1388.19,789.68 L1389.37,788.75 L1390.56,787.80 L1391.75,786.85 L1392.94,785.88 L1394.13,784.90 L1395.32,783.91 L1396.51,782.90 L1397.69,781.88 L1398.88,780.86 L1400.07,779.82 L1401.26,778.77 L1402.45,777.70 L1403.64,776.63 L1404.83,775.55 L1406.02,774.46 L1407.20,773.35 L1408.39,772.24 L1409.58,771.12 L1410.77,769.99 L1411.96,768.85 L1413.15,767.70 L1414.34,766.54 L1415.52,765.38 L1416.71,764.20 L1417.90,763.02 L1419.09,761.83 L1420.28,760.63 L1421.47,759.43 L1422.66,758.22 L1423.84,757.00 L1425.03,755.77 L1426.22,754.54 L1427.41,753.30 L1428.60,752.06 L1429.79,750.81 L1430.98,749.56 L1432.17,748.30 L1433.35,747.03 L1434.54,745.77 L1435.73,744.49 L1436.92,743.21 L1438.11,741.93 L1439.30,740.65 L1440.49,739.36 L1441.67,738.06 L1442.86,736.77 L1444.05,735.47 L1445.24,734.17 L1446.43,732.86 L1447.62,731.55 L1448.81,730.24 L1449.99,728.93 L1451.18,727.62 L1452.37,726.31 L1453.56,724.99 L1454.75,723.67 L1455.94,722.36 L1457.13,721.04 L1458.32,719.72 L1459.50,718.40 L1460.69,717.08 L1461.88,715.76 L1463.07,714.44 L1464.26,713.12 L1465.45,711.80 L1466.64,710.49 L1467.82,709.17 L1469.01,707.85 L1470.20,706.54 L1471.39,705.23 L1472.58,703.91 L1473.77,702.60 L1474.96,701.30 L1476.14,699.99 L1477.33,698.69 L1478.52,697.39 L1479.71,696.09 L1480.90,694.79 L1482.09,693.50 L1483.28,692.21 L1484.46,690.92 L1485.65,689.64 L1486.84,688.36 L1488.03,687.08 L1489.22,685.81 L1490.41,684.54 L1491.60,683.27 L1492.79,682.01 L1493.97,680.75 L1495.16,679.50 L1496.35,678.25 L1497.54,677.00 L1498.73,675.76 L1499.92,674.53 L1501.11,673.30 L1502.29,672.07 L1503.48,670.85 L1504.67,669.63 L1505.86,668.42 L1507.05,667.21 L1508.24,666.01 L1509.43,664.82 L1510.61,663.63 L1511.80,662.44 L1512.99,661.26 L1514.18,660.09 L1515.37,658.92 L1516.56,657.76 L1517.75,656.60 L1518.94,655.45 L1520.12,654.30 L1521.31,653.16 L1522.50,652.03 L1523.69,650.90 L1524.88,649.78 L1526.07,648.66 L1527.26,647.55 L1528.44,646.45 L1529.63,645.35 L1530.82,644.26 L1532.01,643.18 L1533.20,642.10 L1534.39,641.02 L1535.58,639.96 L1536.76,638.90 L1537.95,637.84 L1539.14,636.80 L1540.33,635.75 L1541.52,634.72 L1542.71,633.69 L1543.90,632.67 L1545.08,631.65 L1546.27,630.64 L1547.46,629.63 L1548.65,628.64 L1549.84,627.64 L1551.03,626.66 L1552.22,625.68 L1553.41,624.70 L1554.59,623.74 L1555.78,622.78 L1556.97,621.82 L1558.16,620.87 L1559.35,619.93 L1560.54,618.99 L1561.73,618.06 L1562.91,617.13 L1564.10,616.22 L1565.29,615.30 L1566.48,614.39 L1567.67,613.49 L1568.86,612.60 L1570.05,611.71 L1571.23,610.82 L1572.42,609.94 L1573.61,609.07 L1574.80,608.20 L1575.99,607.34 L1577.18,606.48 L1578.37,605.63 L1579.56,604.78 L1580.74,603.94 L1581.93,603.11 L1583.12,602.28 L1584.31,601.45 L1585.50,600.63 L1586.69,599.82 L1587.88,599.00 L1589.06,598.20 L1590.25,597.40 L1591.44,596.60 L1592.63,595.81 L1593.82,595.03 L1595.01,594.24 L1596.20,593.47 L1597.38,592.69 L1598.57,591.92 L1599.76,591.16 L1600.95,590.40 L1602.14,589.65 L1603.33,588.89 L1604.52,588.15 L1605.71,587.40 L1606.89,586.66 L1608.08,585.93 L1609.27,585.20 L1610.46,584.47 L1611.65,583.75 L1612.84,583.03 L1614.03,582.31 L1615.21,581.60 L1616.40,580.89 L1617.59,580.18 L1618.78,579.48 L1619.97,578.78 L1621.16,578.08 L1622.35,577.39 L1623.53,576.70 L1624.72,576.01 L1625.91,575.33 L1627.10,574.64 L1628.29,573.96 L1629.48,573.29 L1630.67,572.62 L1631.85,571.94 L1633.04,571.28 L1634.23,570.61 L1635.42,569.95 L1636.61,569.29 L1637.80,568.63 L1638.99,567.97 L1640.18,567.32 L1641.36,566.66 L1642.55,566.01 L1643.74,565.36 L1644.93,564.72 L1646.12,564.07 L1647.31,563.43 L1648.50,562.79 L1649.68,562.15 L1650.87,561.51 L1652.06,560.87 L1653.25,560.24 L1654.44,559.61 L1655.63,558.97 L1656.82,558.34 L1658.00,557.71 L1659.19,557.08 L1660.38,556.45 L1661.57,555.83 L1662.76,555.20 L1663.95,554.58 L1665.14,553.95 L1666.33,553.33 L1667.51,552.71 L1668.70,552.08 L1669.89,551.46 L1671.08,550.84 L1672.27,550.22 L1673.46,549.60 L1674.65,548.98 L1675.83,548.36 L1677.02,547.74 L1678.21,547.12 L1679.40,546.50" fill="none" stroke="#2E3192" stroke-width="13.0" stroke-linecap="round" stroke-dasharray="0 30.25"/>
</g></g>
<line x1="612.0" y1="33.5" x2="612.0" y2="1060" stroke="#000" stroke-width="1.9" stroke-dasharray="3.2 0.7"/>
<line x1="972.0" y1="33.5" x2="972.0" y2="1060" stroke="#000" stroke-width="1.9" stroke-dasharray="3.2 0.7"/>
<line x1="1328.0" y1="33.5" x2="1328.0" y2="1060" stroke="#000" stroke-width="1.9" stroke-dasharray="3.2 0.7"/>
<line x1="256.4" y1="546.5" x2="1703.0" y2="546.5" stroke="#000" stroke-width="4.9" stroke-linecap="round" stroke-dasharray="2.9 7.545"/>
<line x1="527.5" y1="282.6" x2="359.5" y2="553.5" stroke="#000" stroke-width="5.5"/>
<path d="M349.1,571.9 L350.1,550.8 L359.5,553.5 L372.9,557.5 Z" fill="#000"/>
<line x1="697.4" y1="408.7" x2="621.5" y2="541.0" stroke="#000" stroke-width="5.5"/>
<path d="M612.0,561.7 L612.4,534.0 L621.5,541.0 L631.0,547.5 Z" fill="#000"/>
<line x1="1453.7" y1="876.5" x2="1229.5" y2="527.5" stroke="#000" stroke-width="5.5"/>
<path d="M1217.1,508.1 L1220.3,535.9 L1229.5,527.5 L1242.0,522.5 Z" fill="#000"/>
<line x1="1490.7" y1="684.9" x2="1387.5" y2="526.5" stroke="#000" stroke-width="5.5"/>
<path d="M1375.1,507.1 L1378.1,534.9 L1387.5,526.5 L1400.1,520.5 Z" fill="#000"/>
<path d="M243.5,31.4 H1691.5 V1062.5 H243.5 Z" fill="none" stroke="#000" stroke-width="4.9" stroke-linejoin="bevel"/>
<line x1="245" y1="139.60" x2="259" y2="139.60" stroke="#000" stroke-width="3.4" stroke-linecap="round"/>
<line x1="245" y1="241.00" x2="259" y2="241.00" stroke="#000" stroke-width="3.4" stroke-linecap="round"/>
<line x1="245" y1="342.90" x2="259" y2="342.90" stroke="#000" stroke-width="3.4" stroke-linecap="round"/>
<line x1="245" y1="443.90" x2="259" y2="443.90" stroke="#000" stroke-width="3.4" stroke-linecap="round"/>
<line x1="245" y1="649.90" x2="259" y2="649.90" stroke="#000" stroke-width="3.4" stroke-linecap="round"/>
<line x1="245" y1="750.90" x2="259" y2="750.90" stroke="#000" stroke-width="3.4" stroke-linecap="round"/>
<line x1="245" y1="853.40" x2="259" y2="853.40" stroke="#000" stroke-width="3.4" stroke-linecap="round"/>
<line x1="245" y1="954.90" x2="259" y2="954.90" stroke="#000" stroke-width="3.4" stroke-linecap="round"/>
<text x="218.50" y="61.30" font-size="65.00" font-weight="bold" text-anchor="end" transform="translate(218.50 0) scale(0.9750 1) translate(-218.50 0)">1.75</text>
<text x="213.50" y="162.80" font-size="65.00" font-weight="bold" text-anchor="end" transform="translate(213.50 0) scale(0.9750 1) translate(-213.50 0)">1.4</text>
<text x="216.50" y="264.80" font-size="65.00" font-weight="bold" text-anchor="end" transform="translate(216.50 0) scale(0.9750 1) translate(-216.50 0)">1.05</text>
<text x="211.50" y="364.30" font-size="65.00" font-weight="bold" text-anchor="end" transform="translate(211.50 0) scale(0.9750 1) translate(-211.50 0)">0.7</text>
<text x="210.00" y="464.80" font-size="65.00" font-weight="bold" text-anchor="end" transform="translate(210.00 0) scale(0.9750 1) translate(-210.00 0)">0.35</text>
<text x="198.50" y="563.30" font-size="65.00" font-weight="bold" text-anchor="end" transform="translate(198.50 0) scale(0.9750 1) translate(-198.50 0)">0</text>
<text x="213.50" y="672.30" font-size="65.00" font-weight="bold" text-anchor="end" transform="translate(213.50 0) scale(0.9750 1) translate(-213.50 0)"><tspan>−</tspan><tspan dx="5">0.35</tspan></text>
<text x="214.00" y="774.80" font-size="65.00" font-weight="bold" text-anchor="end" transform="translate(214.00 0) scale(0.9750 1) translate(-214.00 0)"><tspan>−</tspan><tspan dx="5">0.7</tspan></text>
<text x="213.50" y="876.30" font-size="65.00" font-weight="bold" text-anchor="end" transform="translate(213.50 0) scale(0.9750 1) translate(-213.50 0)"><tspan>−</tspan><tspan dx="5">1.05</tspan></text>
<text x="214.00" y="977.30" font-size="65.00" font-weight="bold" text-anchor="end" transform="translate(214.00 0) scale(0.9750 1) translate(-214.00 0)"><tspan>−</tspan><tspan dx="5">1.4</tspan></text>
<text x="210.00" y="1070.80" font-size="65.00" font-weight="bold" text-anchor="end" transform="translate(210.00 0) scale(0.9750 1) translate(-210.00 0)"><tspan>−</tspan><tspan dx="5">1.75</tspan></text>
<text x="255.50" y="1137.80" font-size="63.50" text-anchor="start">0</text>
<text x="566.50" y="1139.30" font-size="64.00" text-anchor="start"><tspan font-style="italic">π</tspan>/2</text>
<text x="951.00" y="1137.80" font-size="60.00" text-anchor="start"><tspan font-style="italic">π</tspan></text>
<text x="1266.00" y="1138.30" font-size="63.50" text-anchor="start">3<tspan font-style="italic">π</tspan>/2</text>
<text x="1644.00" y="1139.30" font-size="64.50" text-anchor="start" transform="translate(1644.00 0) scale(0.9700 1) translate(-1644.00 0)">2<tspan font-style="italic">π</tspan></text>
<text x="934.00" y="1191.30" font-size="82.00" font-style="italic" text-anchor="start" transform="translate(934.00 0) scale(0.9100 1) translate(-934.00 0)">ωt</text>
<text x="294.00" y="618.80" font-size="59.50" text-anchor="start" transform="translate(294.00 0) scale(0.9550 1) translate(-294.00 0)">110V</text>
<text x="550.00" y="612.30" font-size="59.50" text-anchor="start" transform="translate(550.00 0) scale(0.9550 1) translate(-550.00 0)">220V</text>
<text x="291.00" y="667.30" font-size="56.00" text-anchor="start">Proposed Cuk PFC</text>
<text x="1049.00" y="419.30" font-size="56.00" text-anchor="start">Conventional Cuk PFC</text>
<text x="1137.00" y="495.30" font-size="59.50" text-anchor="start" transform="translate(1137.00 0) scale(0.9550 1) translate(-1137.00 0)">110V</text>
<text x="1333.50" y="493.30" font-size="59.50" text-anchor="start" transform="translate(1333.50 0) scale(0.9550 1) translate(-1333.50 0)">220V</text>
<g transform="translate(76.20 610.40) rotate(-90)"><text x="0" y="0" font-size="85.00" font-style="italic" transform="scale(1.1273 1)">I</text></g>
<g transform="translate(87.20 582.40) rotate(-90)"><text x="0" y="0" font-size="53.00" font-style="italic" transform="scale(1.1083 1)">in</text></g>
<g transform="translate(74.40 538.60) rotate(-90)"><text x="0" y="0" font-size="85.00" transform="scale(0.9928 1)">(A)</text></g>
</svg></body></html>
